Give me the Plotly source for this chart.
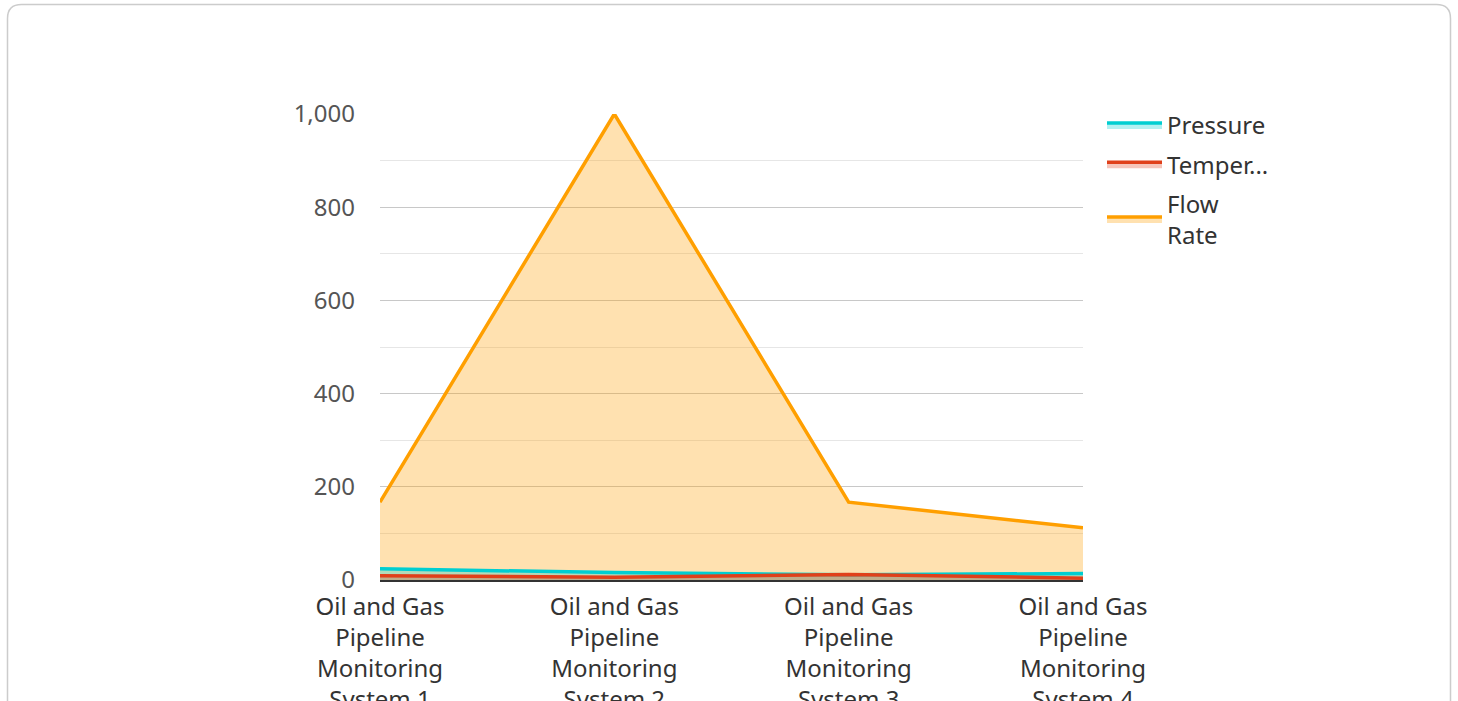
import plotly.graph_objects as go

# Pipeline monitoring readings per system
categories = [
    "Oil and Gas Pipeline Monitoring System 1",
    "Oil and Gas Pipeline Monitoring System 2",
    "Oil and Gas Pipeline Monitoring System 3",
    "Oil and Gas Pipeline Monitoring System 4",
]
tick_labels = [
    "Oil and Gas<br>Pipeline<br>Monitoring<br>System 1",
    "Oil and Gas<br>Pipeline<br>Monitoring<br>System 2",
    "Oil and Gas<br>Pipeline<br>Monitoring<br>System 3",
    "Oil and Gas<br>Pipeline<br>Monitoring<br>System 4",
]
pressure = [24, 16, 11, 14]
temperature = [9, 6, 12, 4]
flow_rate = [167, 1000, 167, 112]

series = [
    # name, legend label, values, line colour, fill colour, legend rank
    ("Flow Rate", "Flow<br>Rate", flow_rate, "#FF9F00", "rgba(255,159,0,0.31)", 3),
    ("Pressure", "Pressure", pressure, "#00CED1", "rgba(0,206,209,0.3)", 1),
    ("Temperature", "Temper...", temperature, "#E0401A", "rgba(224,64,26,0.3)", 2),
]

FONT = "Noto Sans, Open Sans, sans-serif"

fig = go.Figure()
for name, label, values, color, fill, rank in series:
    fig.add_trace(go.Scatter(
        x=categories, y=values, name=label, mode="lines",
        line=dict(color=color, width=3.5), fill="tozeroy", fillcolor=fill,
        legendrank=rank, legendgroup=name, hoverinfo="x+y",
    ))

W, H = 1458, 701
L, R, T, B = 380, 375, 114, 121
pw, ph = W - L - R, H - T - B


def px(x):
    return (x - L) / pw


def py(y):
    return (H - B - y) / ph


# rounded card outline
x0, x1, y0, y1, r = 7.5, 1450.5, 4.5, 720, 14
path = (
    f"M {px(x0 + r)},{py(y0)} L {px(x1 - r)},{py(y0)} "
    f"Q {px(x1)},{py(y0)} {px(x1)},{py(y0 + r)} L {px(x1)},{py(y1)} "
    f"L {px(x0)},{py(y1)} L {px(x0)},{py(y0 + r)} "
    f"Q {px(x0)},{py(y0)} {px(x0 + r)},{py(y0)} Z"
)

fig.update_layout(
    width=W, height=H,
    margin=dict(l=L, r=R, t=T, b=B, autoexpand=False),
    paper_bgcolor="white", plot_bgcolor="white",
    font=dict(family=FONT, size=24, color="#333333"),
    showlegend=True,
    legend=dict(
        x=px(1102), y=py(103), xanchor="left", yanchor="top",
        font=dict(family=FONT, size=24, color="#333333"),
        itemwidth=55, traceorder="grouped", tracegroupgap=5,
        bgcolor="rgba(0,0,0,0)",
    ),
    xaxis=dict(
        type="category", range=[0, 3], tickvals=categories, ticktext=tick_labels,
        showgrid=False, showline=True, linecolor="#333333", linewidth=2,
        ticks="", tickfont=dict(family=FONT, size=24, color="#333333"),
        ticklabelstandoff=4,
        zeroline=False, fixedrange=True,
    ),
    yaxis=dict(
        range=[0, 1000], dtick=200, tickformat=",d",
        showgrid=True, gridcolor="#c8c8c8", gridwidth=1,
        minor=dict(dtick=100, showgrid=True, gridcolor="#e6e6e6", gridwidth=1),
        zeroline=False, showline=False, ticks="",
        ticklabelstandoff=24,
        tickfont=dict(family=FONT, size=24, color="#555555"),
        fixedrange=True,
    ),
    shapes=[dict(type="path", path=path, xref="paper", yref="paper",
                 line=dict(color="#cccccc", width=1.5), layer="below")],
)

fig.write_html("out.html")
